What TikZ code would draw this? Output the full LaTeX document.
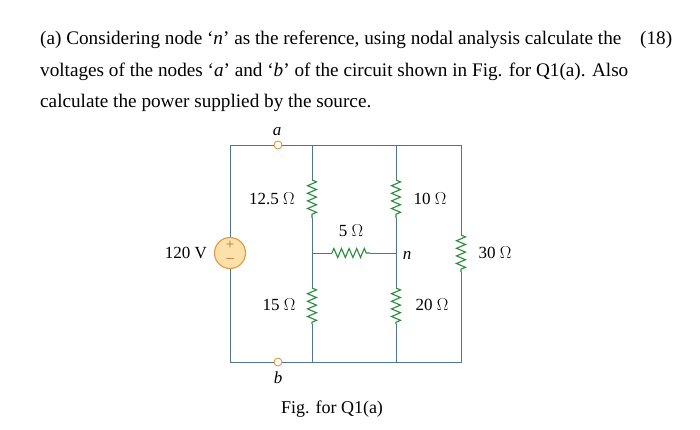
\documentclass[tikz,border=0pt]{standalone}
\usepackage{fontspec}
\setmainfont{Liberation Serif}
\usetikzlibrary{decorations.pathmorphing}
\definecolor{wire}{RGB}{80,115,150}
\definecolor{res}{RGB}{40,140,60}
\definecolor{src}{RGB}{230,150,60}
\definecolor{srcd}{RGB}{200,110,30}
\definecolor{srcfill}{RGB}{252,225,170}
\tikzset{w/.style={draw=wire,line width=1pt},
 rz/.style={draw=res,line width=1.1pt,decorate,decoration={zigzag,segment length=7.6pt,amplitude=4.5pt}},
 term/.style={circle,draw=src,fill=white,inner sep=0pt,minimum size=8pt,line width=0.9pt},
 lab/.style={font=\fontsize{17}{19}\selectfont},
 ttl/.style={font=\fontsize{19.2}{22}\selectfont,anchor=base west,inner sep=0pt}}
\begin{document}
\begin{tikzpicture}[x=1pt,y=-1pt]
\useasboundingbox (0,0) rectangle (700,429);
\node[ttl] (t1) at (40,44) {(a) Considering node `\textit{n}' as the reference, using nodal analysis calculate the};
\node[ttl] (t0) at (640,44) {(18)};
\node[ttl] (t2) at (40,76) {voltages of the nodes `\textit{a}' and `\textit{b}' of the circuit shown in Fig. for Q1(a). Also};
\node[ttl] (t3) at (40,107) {calculate the power supplied by the source.};
\coordinate (tl) at (230,145); \coordinate (bl) at (230,362);
\coordinate (t2c) at (312,145); \coordinate (b2c) at (312,362);
\coordinate (t3c) at (396,145); \coordinate (b3c) at (396,362);
\coordinate (tr) at (461,145); \coordinate (br) at (461,362);
\coordinate (m2) at (312,253); \coordinate (m3) at (396,253);
\node[term] (a) at (278,145) {};
\node[term] (b) at (278,362) {};
\node[circle,draw=src,fill=srcfill,line width=1.1pt,minimum size=31pt,inner sep=0pt] (S) at (230,253) {};
\node[font=\fontsize{15}{15}\selectfont,text=srcd] (sp) at (230,245) {+};
\node[font=\fontsize{15}{15}\selectfont,text=srcd] (sm) at (230,261) {--};
\draw[w] (S.north) -- (tl) -- (a.west);
\draw[w] (a.east) -- (tr) -- (461,235);
\draw[w] (461,272) -- (br) -- (b.east);
\draw[w] (b.west) -- (bl) -- (S.south);
\draw[w] (t2c) -- (312,180); \draw[w] (312,218) -- (312,288); \draw[w] (312,324) -- (b2c);
\draw[w] (t3c) -- (396,180); \draw[w] (396,218) -- (396,288); \draw[w] (396,324) -- (b3c);
\draw[w] (m2) -- (332,253); \draw[w] (370,253) -- (m3);
\draw[rz] (312,180) -- (312,218);
\draw[rz] (396,180) -- (396,218);
\draw[rz] (312,288) -- (312,324);
\draw[rz] (396,288) -- (396,324);
\draw[rz] (461,235) -- (461,272);
\draw[rz] (332,253) -- (370,253);
\node[lab] at (277,132) {\textit{a}};
\node[lab] at (278,378) {\textit{b}};
\node[lab] at (272,199) {12.5 $\Omega$};
\node[lab] at (430,199) {10 $\Omega$};
\node[lab] at (279,305) {15 $\Omega$};
\node[lab] at (432,305) {20 $\Omega$};
\node[lab] at (351,231) {5 $\Omega$};
\node[lab] at (495,253) {30 $\Omega$};
\node[lab] at (407,255) {\textit{n}};
\node[lab] at (186,253) {120 V};
\node[font=\fontsize{18}{20}\selectfont] at (332,409) {Fig. for Q1(a)};
\end{tikzpicture}
\end{document}
